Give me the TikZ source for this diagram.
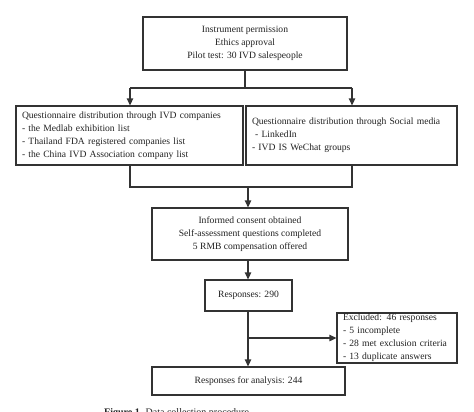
\documentclass[tikz,border=0pt]{standalone}
\usepackage{fontspec}
\setmainfont{Liberation Serif}
\usetikzlibrary{arrows.meta}
\definecolor{ln}{HTML}{333333}
\definecolor{tx}{HTML}{222222}
\tikzset{
  box/.style={draw=ln, line width=1.3pt, text=tx, font=\fontsize{9.6}{13}\selectfont, inner sep=0pt, align=center},
  lbox/.style={box, align=left, inner xsep=6pt},
  conn/.style={draw=ln, line width=1.3pt},
  arr/.style={conn, -{Triangle[length=7pt,width=6.5pt]}}
}
\begin{document}
\begin{tikzpicture}[x=1pt,y=-1pt]
\useasboundingbox[fill=white] (0,0) rectangle (474,412);
\node[box, minimum width=204pt, minimum height=53pt] (top) at (245,43.5)
  {Instrument permission\\Ethics approval\\Pilot test: 30 IVD salespeople};
\node[lbox, text width=215pt, minimum height=59pt] (left) at (129.5,135.5)
  {Questionnaire distribution through IVD companies\\- the Medlab exhibition list\\- Thailand FDA registered companies list\\- the China IVD Association company list};
\node[lbox, text width=199pt, minimum height=59pt] (right) at (351.5,135.5)
  {Questionnaire distribution through Social media\\\ - LinkedIn\\- IVD IS WeChat groups};
\node[box, minimum width=196pt, minimum height=52pt] (inf) at (250,234)
  {Informed consent obtained\\Self-assessment questions completed\\5 RMB compensation offered};
\node[box, minimum width=87pt, minimum height=31pt] (r290) at (248.5,295.5)
  {Responses: 290};
\node[lbox, text width=108pt, minimum height=50pt] (exc) at (397,338)
  {Excluded: 46 responses\\- 5 incomplete\\- 28 met exclusion criteria\\- 13 duplicate answers};
\node[box, minimum width=193pt, minimum height=28pt] (fin) at (248.5,381)
  {Responses for analysis: 244};
\node[anchor=base west, text=tx, font=\fontsize{10}{12}\selectfont, inner sep=0pt] (cap) at (104,415)
  {\textbf{Figure 1.} Data collection procedure};
% split
\coordinate (s1) at (245,88);
\coordinate (sl) at (130,88);
\coordinate (sr) at (352,88);
\draw[conn] (top.south -| s1) -- (s1);
\draw[conn] (sl) -- (sr);
\draw[arr] (sl) -- (sl |- left.north);
\draw[arr] (sr) -- (sr |- right.north);
% merge
\coordinate (ml) at (130,187);
\coordinate (mr) at (352,187);
\coordinate (mc) at (248,187);
\draw[conn] (ml |- left.south) -- (ml) -- (mr) -- (mr |- right.south);
\draw[arr] (mc) -- (mc |- inf.north);
\draw[arr] (mc |- inf.south) -- (mc |- r290.north);
\coordinate (br) at (248,338);
\draw[arr] (mc |- r290.south) -- (mc |- fin.north);
\draw[arr] (br) -- (exc.west);
\end{tikzpicture}
\end{document}
